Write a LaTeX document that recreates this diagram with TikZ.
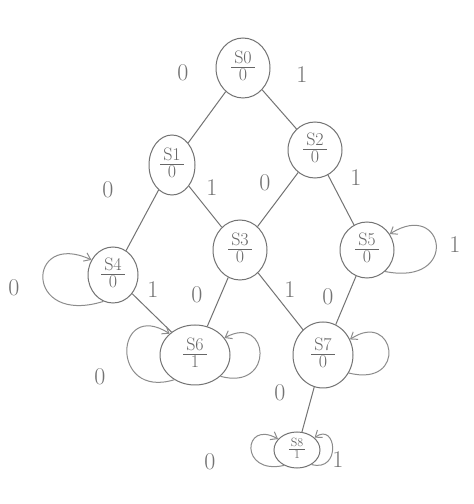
\documentclass[tikz,border=0pt]{standalone}
\usetikzlibrary{shapes.geometric,arrows.meta}
\begin{document}
\begin{tikzpicture}[x=1pt,y=1pt,
  st/.style={draw=black!55, line width=1pt, ellipse, inner sep=0pt, text=black!60, font=\fontsize{18}{19}\selectfont},
  ln/.style={draw=black!55, line width=1pt},
  lp/.style={draw=black!45, line width=1pt, -{Straight Barb[length=6pt,width=9pt]}},
  lb/.style={text=black!55, font=\fontsize{24}{26}\selectfont}]
\useasboundingbox (0,0) rectangle (474,504);
\fill[white] (0,0) rectangle (474,504);
\newcommand{\stt}[2]{\begin{tabular}{@{\,}c@{\,}}#1\\[-2pt]\hline #2\end{tabular}}
\node[st, minimum width=54, minimum height=60] (s0) at (243,436) {\stt{S0}{0}};
\node[st, minimum width=46, minimum height=60] (s1) at (172,339) {\stt{S1}{0}};
\node[st, minimum width=54, minimum height=56] (s2) at (315,354) {\stt{S2}{0}};
\node[st, minimum width=54, minimum height=60] (s3) at (240,254) {\stt{S3}{0}};
\node[st, minimum width=54, minimum height=56] (s5) at (367,254) {\stt{S5}{0}};
\node[st, minimum width=50, minimum height=56] (s4) at (113,229) {\stt{S4}{0}};
\node[st, minimum width=70, minimum height=60] (s6) at (195,149) {\stt{S6}{1}};
\node[st, minimum width=60, minimum height=66] (s7) at (323,149) {\stt{S7}{0}};
\node[st, minimum width=46, minimum height=36, font=\fontsize{12}{13}\selectfont] (s8) at (297,54) {\stt{S8}{1}};
% edges
\draw[ln] (s0) -- (s1);
\draw[ln] (s0) -- (s2);
\draw[ln] (s1) -- (s4);
\draw[ln] (s1) -- (s3);
\draw[ln] (s2) -- (s3);
\draw[ln] (s2) -- (s5);
\draw[ln] (s4) -- (s6);
\draw[ln] (s3) -- (s6);
\draw[ln] (s3) -- (s7);
\draw[ln] (s5) -- (s7);
\draw[ln] (s7) -- (s8);
% loops
\draw[lp] (s4.250) .. controls +(-80,-25) and +(-65,30) .. (s4.145);
\draw[lp] (s5.-50) .. controls +(75,-15) and +(55,35) .. (s5.35);
\draw[lp] (s6.230) .. controls +(-65,-20) and +(-55,35) .. (s6.140);
\draw[lp] (s6.-40) .. controls +(55,-15) and +(45,25) .. (s6.30);
\draw[lp] (s7.-35) .. controls +(60,-15) and +(45,30) .. (s7.30);
\draw[lp] (s8.230) .. controls +(-45,-10) and +(-35,20) .. (s8.150);
\draw[lp] (s8.-45) .. controls +(30,-8) and +(22,16) .. (s8.35);
% labels
\node[lb] (l1) at (183,431) {0};
\node[lb] (l2) at (302,429) {1};
\node[lb] (l3) at (108,314) {0};
\node[lb] (l4) at (212,316) {1};
\node[lb] (l5) at (265,321) {0};
\node[lb] (l6) at (356,326) {1};
\node[lb] (l7) at (14,216) {0};
\node[lb] (l8) at (153,214) {1};
\node[lb] (l9) at (197,209) {0};
\node[lb] (l10) at (290,214) {1};
\node[lb] (l11) at (328,207) {0};
\node[lb] (l12) at (455,259) {1};
\node[lb] (l13) at (100,127) {0};
\node[lb] (l14) at (280,111) {0};
\node[lb] (l15) at (210,42) {0};
\node[lb] (l16) at (338,44) {1};
\end{tikzpicture}
\end{document}
